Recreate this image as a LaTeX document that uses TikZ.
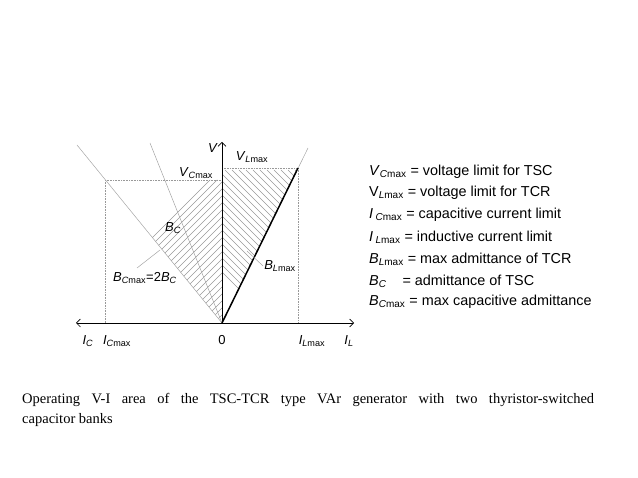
\documentclass[tikz,border=0pt]{standalone}
\usepackage{fontspec}
\setmainfont{Liberation Serif}
\setsansfont{Liberation Sans}
\usetikzlibrary{patterns,arrows.meta}
\newcommand{\sbx}[2]{\textsubscript{\textit{#1}#2}}
\begin{document}
\begin{tikzpicture}[x=1pt,y=-1pt,
  dotl/.style={densely dotted,gray!80,line width=0.6pt},
  thin grey/.style={gray!70,line width=0.5pt},
  lbl/.style={font=\sffamily\fontsize{13}{13}\selectfont,inner sep=1pt},
  leg/.style={font=\sffamily\fontsize{14.4}{14}\selectfont,anchor=west,inner sep=0pt},
  hatch/.style={gray!80,line width=0.4pt}]
\useasboundingbox (0,0) rectangle (638,478);
\coordinate (O) at (222,323);
\coordinate (Lm) at (298,168);
\coordinate (Cm) at (105,180);
\coordinate (Cv) at (222,180);
\coordinate (Lv) at (222,168);
% hatching
\begin{scope}
\clip (O) -- (Cm) -- (Cv) -- cycle;
\foreach \i in {0,...,40} \draw[hatch] (60+\i*7,330) -- ++(160,-160);
\end{scope}
\begin{scope}
\clip (O) -- (Lv) -- (Lm) -- cycle;
\foreach \i in {0,...,40} \draw[hatch] (120+\i*7,170) -- ++(160,160);
\end{scope}
% dotted limits
\draw[dotl] (Cm) -- (Cv);
\draw[dotl] (Lv) -- (Lm);
\draw[dotl] (Cm) -- (105,323);
\draw[dotl] (Lm) -- (298,323);
% lines
\coordinate (Cext) at (77,145);
\coordinate (Lext) at (308,148);
\coordinate (Bc) at (150,143);
\draw[thin grey] (O) -- (Cext);
\draw[thin grey] (O) -- (Lext);
\draw[thin grey] (O) -- (Bc);
\draw[line width=1.5pt] (O) -- (Lm);
% axes
\coordinate (xl) at (76,323);
\coordinate (xr) at (354,323);
\coordinate (yt) at (222,142);
\draw[-{Straight Barb[length=4pt]},line width=0.6pt] (O) -- (xl);
\draw[-{Straight Barb[length=4pt]},line width=0.6pt] (O) -- (xr);
\draw[-{Straight Barb[length=4pt]},line width=0.6pt] (O) -- (yt);
% labels
\node[lbl] (lV) at (213,148) {\textit{V}};
\node[lbl] (lVL) at (252,157) {\textit{V}\sbx{L}{max}};
\node[lbl] (lVC) at (196,173) {\textit{V}\sbx{C}{max}};
\node[lbl] (lBc) at (173,228) {\textit{B}\sbx{C}{}};
\node[lbl] (lBCm) at (145,278) {\textit{B}\sbx{C}{max}=2\textit{B}\sbx{C}{}};
\node[lbl] (lBL) at (280,266) {\textit{B}\sbx{L}{max}};
\coordinate (pC) at (160,250);
\coordinate (pL) at (247,251);
\draw[thin grey] (137,268) -- (pC);
\draw[thin grey] (lBL.west) -- (pL);
\node[lbl] (lIc) at (88,341) {\textit{I}\sbx{C}{}};
\node[lbl] (lICm) at (117,341) {\textit{I}\sbx{C}{max}};
\node[lbl] (l0) at (222,340) {0};
\node[lbl] (lILm) at (312,341) {\textit{I}\sbx{L}{max}};
\node[lbl] (lIL) at (349,341) {\textit{I}\sbx{L}{}};
% legend
\node[leg] (g1) at (369,172) {\textit{V}\sbx{C}{max} = voltage limit for TSC};
\node[leg] (g2) at (369,193) {V\sbx{L}{max} = voltage limit for TCR};
\node[leg] (g3) at (369,215) {\textit{I}\,\sbx{C}{max} = capacitive current limit};
\node[leg] (g4) at (369,237) {\textit{I}\,\sbx{L}{max} = inductive current limit};
\node[leg] (g5) at (369,259) {\textit{B}\sbx{L}{max} = max admittance of TCR};
\node[leg] (g6) at (369,281) {\textit{B}\sbx{C}{}\hspace{12pt} = admittance of TSC};
\node[leg] (g7) at (369,302) {\textit{B}\sbx{C}{max} = max capacitive admittance};
% caption
\node[anchor=west,inner sep=0pt,font=\fontsize{14.5}{16}\selectfont] (cap1) at (22,400) {\makebox[572pt][s]{Operating V-I area of the TSC-TCR type VAr generator with two thyristor-switched}};
\node[anchor=west,inner sep=0pt,font=\fontsize{14.5}{16}\selectfont] (cap2) at (22,420) {capacitor banks};
\end{tikzpicture}
\end{document}
